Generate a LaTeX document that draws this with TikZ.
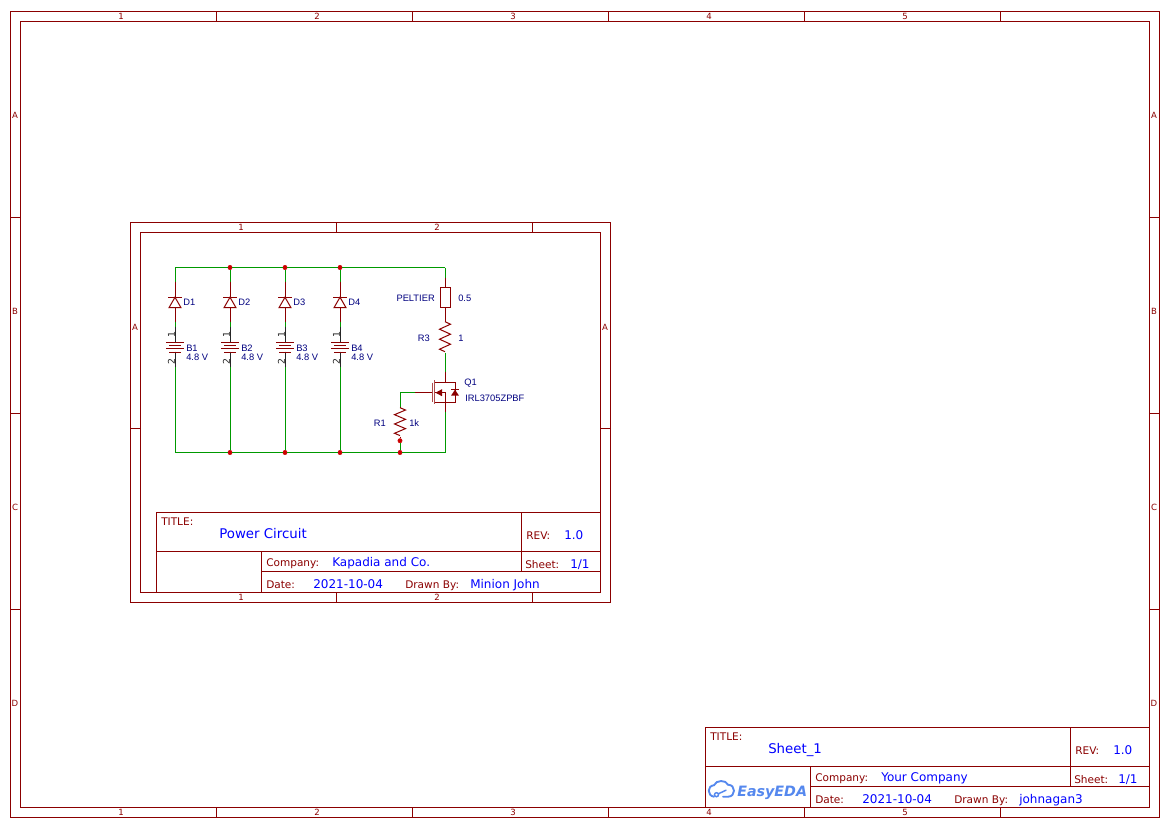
\documentclass[tikz,border=0pt]{standalone}
\usepackage{fontspec}
\setmainfont{DejaVu Sans}
\newfontfamily\partfont{Liberation Sans}
\definecolor{framered}{HTML}{8B0000}
\definecolor{dotred}{HTML}{CC0000}
\definecolor{wiregreen}{HTML}{009900}
\definecolor{valueblue}{HTML}{0000FF}
\definecolor{partblue}{HTML}{000080}
\definecolor{logoblue}{HTML}{5588EE}
\tikzset{
    frameline/.style={draw=framered, line width=0.75pt},
    framelabel/.style={text=framered, font=\fontsize{6.4}{7}\selectfont, inner sep=0pt},
    valuetext/.style={text=valueblue, font=\fontsize{9}{10}\selectfont, inner sep=0pt, anchor=base west},
    keytext/.style={text=framered, font=\fontsize{7.9}{9}\selectfont, inner sep=0pt, anchor=base west},
    titletext/.style={text=valueblue, font=\fontsize{10}{12}\selectfont, inner sep=0pt, anchor=base west},
    wire/.style={draw=wiregreen, line width=0.75pt},
    pinline/.style={draw=framered, line width=0.75pt},
    partlabel/.style={text=partblue, font=\partfont\fontsize{7}{8}\selectfont, inner sep=0pt, anchor=west},
    pinnum/.style={text=black!85, font=\fontsize{7}{8}\selectfont, inner sep=0pt, rotate=90},
    junction/.style={circle, fill=dotred, draw=dotred, inner sep=0pt, minimum size=3.2pt},
    pics/zigzag/.style={code={
        \draw[pinline] (0,0) -- ++(5.5,2.5) -- ++(-11,5) -- ++(11,5) -- ++(-11,5) -- ++(11,5) -- ++(-11,5) -- ++(5.5,2.5);
    }},
}

\begin{document}
\begin{tikzpicture}[x=0.75pt, y=-0.75pt]
    \useasboundingbox (0,0.3) rectangle (1169,828.3);
    \fill[white] (0,0.3) rectangle (1169,828.3);

    % Sheet frame
    \draw[frameline] (10,12) rectangle (1159,818);
    \draw[frameline] (20,22) rectangle (1149,808);
    \foreach \x in {216,412,608,804,1000} {
        \draw[frameline] (\x,12) -- (\x,22);
        \draw[frameline] (\x,808) -- (\x,818);
    }
    \foreach \y in {218,414,610} {
        \draw[frameline] (10,\y) -- (20,\y);
        \draw[frameline] (1149,\y) -- (1159,\y);
    }
    \foreach \n/\x in {1/121,2/317,3/513,4/709,5/905} {
        \node[framelabel] (top\n) at (\x,17) {\n};
        \node[framelabel] (bot\n) at (\x,813) {\n};
    }
    \foreach \n/\y in {A/116,B/312,C/508,D/704} {
        \node[framelabel] (left\n) at (15,\y) {\n};
        \node[framelabel] (right\n) at (1154,\y) {\n};
    }

    % Sheet title block
    \draw[frameline] (705,728) rectangle (1149,808);
    \draw[frameline] (705,767) -- (1149,767);
    \draw[frameline] (810,787) -- (1149,787);
    \draw[frameline] (1070,728) -- (1070,787);
    \draw[frameline] (810,767) -- (810,808);
    \node[keytext] (sheettitlekey) at (710,740.5) {TITLE:};
    \node[titletext] (sheettitle) at (768,753.5) {Sheet\_1};
    \node[keytext] (sheetrevkey) at (1075,754.5) {REV:};
    \node[valuetext] (sheetrev) at (1113,754.5) {1.0};
    \node[keytext] (sheetcompkey) at (815,781.5) {Company:};
    \node[valuetext] (sheetcomp) at (881,781.5) {Your Company};
    \node[keytext] (sheetnumkey) at (1074,783.5) {Sheet:};
    \node[valuetext] (sheetnum) at (1118,783.5) {1/1};
    \node[keytext] (sheetdatekey) at (815,803.5) {Date:};
    \node[valuetext] (sheetdate) at (862,803.5) {2021-10-04};
    \node[keytext] (sheetbykey) at (954,803.5) {Drawn By:};
    \node[valuetext] (sheetby) at (1019,803.5) {johnagan3};

    % EasyEDA logo
    \draw[logoblue, line width=1.4pt, line cap=round] (714,797) .. controls (707,796) and (707,786) .. (714,785.5) .. controls (716,780) and (726,780) .. (728,785) .. controls (736,785) and (736,797) .. (728,797) -- (723,797);
    \draw[logoblue, line width=1.1pt] (716.5,795) circle (2);
    \draw[logoblue, line width=1.1pt, line cap=round] (718.5,794) -- (726,790.5);
    \node[inner sep=0pt, text=logoblue, anchor=base west, font=\bfseries\itshape\fontsize{10.7}{12}\selectfont] (logotext) at (737,796.5) {EasyEDA};

    % Schematic frame
    \draw[frameline] (130,223) rectangle (610,603);
    \draw[frameline] (140,233) rectangle (600,593);
    \foreach \x in {336,532} {
        \draw[frameline] (\x,223) -- (\x,233);
        \draw[frameline] (\x,593) -- (\x,603);
    }
    \draw[frameline] (130,429) -- (140,429);
    \draw[frameline] (600,429) -- (610,429);
    \foreach \n/\x in {1/241,2/437} {
        \node[framelabel] (subtop\n) at (\x,228) {\n};
        \node[framelabel] (subbot\n) at (\x,598) {\n};
    }
    \node[framelabel] (subleftA) at (135,328) {A};
    \node[framelabel] (subrightA) at (605,328) {A};

    % Schematic title block
    \draw[frameline] (156,513) rectangle (600,593);
    \draw[frameline] (156,552) -- (600,552);
    \draw[frameline] (261,572) -- (600,572);
    \draw[frameline] (521,513) -- (521,572);
    \draw[frameline] (261,552) -- (261,593);
    \node[keytext] (titlekey) at (161,525.5) {TITLE:};
    \node[titletext] (title) at (219,538.5) {Power Circuit};
    \node[keytext] (revkey) at (526,539.5) {REV:};
    \node[valuetext] (rev) at (564,539.5) {1.0};
    \node[keytext] (compkey) at (266,566.5) {Company:};
    \node[valuetext] (comp) at (332,566.5) {Kapadia and Co.};
    \node[keytext] (numkey) at (525,568.5) {Sheet:};
    \node[valuetext] (num) at (570,568.5) {1/1};
    \node[keytext] (datekey) at (266,588.5) {Date:};
    \node[valuetext] (date) at (313,588.5) {2021-10-04};
    \node[keytext] (bykey) at (405,588.5) {Drawn By:};
    \node[valuetext] (by) at (470,588.5) {Minion John};

    % Junctions on the rails
    \coordinate (topleft) at (175,267.8);
    \coordinate (topright) at (445,267.8);
    \coordinate (botleft) at (175,452.8);
    \coordinate (botright) at (445,452.8);
    \node[junction] (top2) at (230,267.8) {};
    \node[junction] (top3) at (285,267.8) {};
    \node[junction] (top4) at (340,267.8) {};
    \node[junction] (botj2) at (230,452.8) {};
    \node[junction] (botj3) at (285,452.8) {};
    \node[junction] (botj4) at (340,452.8) {};
    \node[junction] (botj5) at (400,452.8) {};
    \draw[wire] (topleft) -- (top2) -- (top3) -- (top4) -- (topright);
    \draw[wire] (botleft) -- (botj2) -- (botj3) -- (botj4) -- (botj5) -- (botright);

    % Diode and battery branches
    \foreach \n/\x/\rail/\base in {1/175/topleft/botleft,2/230/top2/botj2,3/285/top3/botj3,4/340/top4/botj4} {
        \coordinate (dtop\n) at (\x,282);
        \coordinate (dbot\n) at (\x,322);
        \coordinate (btop\n) at (\x,327);
        \coordinate (bbot\n) at (\x,367);
        \draw[wire] (\rail) -- (dtop\n);
        \draw[pinline] (dtop\n) -- (dbot\n);
        \draw[wire] (dbot\n) -- (btop\n);
        \draw[wire] (bbot\n) -- (\base);
        % diode
        \draw[pinline] (\x-7,297.5) -- (\x+7,297.5);
        \draw[pinline, fill=white] (\x,297.5) -- (\x+6,308) -- (\x-6,308) -- cycle;
        % battery
        \draw[line width=0.75pt, black!85] (btop\n) -- (\x,343);
        \draw[line width=0.75pt, black!85] (\x,352) -- (bbot\n);
        \draw[pinline] (\x-9,343) -- (\x+9,343);
        \draw[pinline] (\x-6,346) -- (\x+6,346);
        \draw[pinline] (\x-9,349) -- (\x+9,349);
        \draw[pinline] (\x-6,352.5) -- (\x+6,352.5);
        \node[pinnum] (pina\n) at (\x-3.5,334.5) {1};
        \node[pinnum] (pinb\n) at (\x-3.5,361.5) {2};
        \node[partlabel] (D\n) at (\x+8,302.5) {D\n};
        \node[partlabel] (B\n) at (\x+11,348.5) {B\n};
        \node[partlabel] (V\n) at (\x+11,357.5) {4.8 V};
    }

    % Peltier and R3
    \coordinate (peltop) at (445,278);
    \coordinate (r3top) at (445,322);
    \coordinate (r3bot) at (445,353);
    \coordinate (qdrain) at (445,372);
    \draw[wire] (topright) -- (peltop);
    \draw[pinline] (peltop) -- (445,287);
    \draw[pinline] (440,287.5) rectangle (450.5,308);
    \draw[pinline] (445,308) -- (r3top);
    \pic at (r3top) {zigzag};
    \draw[wire] (r3bot) -- (qdrain);
    \node[partlabel, anchor=east] (peltier) at (435,298.5) {PELTIER};
    \node[partlabel] (pelval) at (458,298.5) {0.5};
    \node[partlabel, anchor=east] (R3) at (430,338.5) {R3};
    \node[partlabel] (r3val) at (458,338.5) {1};

    % MOSFET
    \coordinate (qsource) at (445,412);
    \coordinate (qgate) at (415,393);
    \coordinate (gbend) at (400,393);
    \coordinate (r1top) at (400,407);
    \draw[pinline] (qdrain) -- (445,382.5) -- (434,382.5);
    \draw[pinline] (qsource) -- (445,393) -- (434,393);
    \draw[pinline] (445,402.5) -- (434,402.5);
    \draw[pinline] (445,382.5) -- (455,382.5) -- (455,402.5) -- (445,402.5);
    \draw[framered!70, line width=0.75pt] (434.5,380.5) -- (434.5,404);
    \draw[framered!70, line width=0.75pt] (432,383) -- (432,402);
    \draw[pinline] (qgate) -- (432,393);
    \fill[framered] (435.5,393) -- (442,389.5) -- (442,396.5) -- cycle;
    \fill[framered] (455,390) -- (459,396) -- (451,396) -- cycle;
    \draw[pinline] (451,390) -- (459,390);
    \draw[wire] (qsource) -- (botright);
    \draw[wire] (qgate) -- (gbend) -- (r1top);
    \node[partlabel] (Q1) at (464,383.5) {Q1};
    \node[partlabel] (qval) at (465,398.5) {IRL3705ZPBF};

    % R1
    \coordinate (r1zig) at (400,408);
    \node[junction] (r1end) at (400,441) {};
    \draw[pinline] (r1top) -- (r1zig);
    \pic[yscale=0.93] at (r1zig) {zigzag};
    \draw[pinline] (400,437) -- (r1end);
    \draw[wire] (r1end) -- (botj5);
    \node[partlabel, anchor=east] (R1) at (386,423.5) {R1};
    \node[partlabel] (r1val) at (409,423.5) {1k};
\end{tikzpicture}
\end{document}
